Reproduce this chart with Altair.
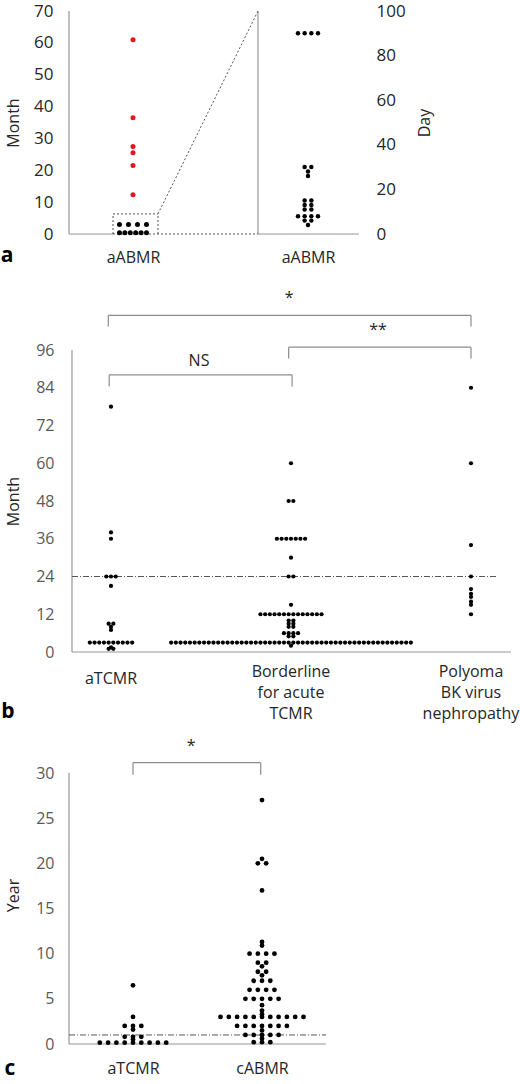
import altair as alt
import pandas as pd

FONT = "Open Sans"
DARK = "#262626"
GREY_TXT = "#595959"
AXLINE = "#969696"
BRACKET = "#8c8c8c"
RED = "#e8141c"

# ---------------- panel a data ----------------
a_cats = ["aABMR", "aABMR"]
a_month_ticks = [0, 10, 20, 30, 40, 50, 60, 70]
a_day_ticks = [0, 20, 40, 60, 80, 100]
a_red_month = [61, 36.5, 27.5, 25.5, 21.5, 12.3]
a_black_month = [3, 3, 3, 3, 0.4, 0.4, 0.4, 0.4, 0.4, 0.4]
a_day = [90, 90, 90, 90, 30, 30, 28, 26, 15, 15, 13, 13, 11, 11, 8, 8, 8, 8, 6, 6, 4]
a_box_top_month = 6.3

# ---------------- panel b data ----------------
b_cats = ["aTCMR", "Borderline\nfor acute\nTCMR", "Polyoma\nBK virus\nnephropathy"]
b_ticks = [0, 12, 24, 36, 48, 60, 72, 84, 96]
b_atcmr = [78, 38, 36, 24, 24, 24, 21, 9, 9, 8, 7] + [3] * 10 + [1.5, 1, 1]
b_borderline = ([60, 48, 48] + [36] * 7 + [30, 24, 24, 15] + [12] * 14
                + [10, 10, 9, 9, 8, 8] + [6] * 4 + [5, 5] + [3] * 52 + [2])
b_polyoma = [84, 60, 34, 24, 20, 18.5, 17.5, 16, 15, 12]
b_cutoff = 24
b_brackets = [
    {"x1": -0.015, "x2": 2.0, "top": 107.0, "end": 103.5, "label": "*", "lx": 0.99, "ly": 112.4},
    {"x1": 0.987, "x2": 2.0, "top": 96.9, "end": 93.3, "label": "**", "lx": 1.483, "ly": 102.2},
    {"x1": -0.01, "x2": 1.006, "top": 88.1, "end": 84.4, "label": "NS", "lx": 0.489, "ly": 92.4},
]

# ---------------- panel c data ----------------
c_cats = ["aTCMR", "cABMR"]
c_ticks = [0, 5, 10, 15, 20, 25, 30]
c_atcmr = [6.5, 3, 2, 2, 2, 1.6, 0.8, 0.8, 0.8, 0.5] + [0.15] * 9
c_cabmr = ([27, 20.5, 20, 20, 17, 11.3, 10.9] + [10] * 4 + [9, 9, 8.6, 8, 8, 7.6, 7, 7, 7]
           + [6] * 4 + [5] * 5 + [4.3, 3.7, 3.3] + [3] * 11 + [2] * 7 + [1.5] + [1] * 5
           + [0.6] + [0.2] * 3)
c_cutoff = 1
c_brackets = [
    {"x1": 0.0, "x2": 0.99, "top": 31.14, "end": 29.8, "label": "*", "lx": 0.45, "ly": 33.0},
]


def swarm(values, center, spacing_px, px_per_unit, max_px=None):
    counts, order = {}, []
    for v in values:
        if v not in counts:
            counts[v] = 0
            order.append(v)
        counts[v] += 1
    rows = []
    for v in order:
        n = counts[v]
        sp = spacing_px
        if max_px is not None and n > 1:
            sp = min(sp, max_px / (n - 1))
        for i in range(n):
            off = (i - (n - 1) / 2) * sp
            rows.append({"x": center + off / px_per_unit, "y": v})
    return pd.DataFrame(rows)


def rules(rows):
    return pd.DataFrame(rows, columns=["x", "x2", "y", "y2"])


def bracket_rows(brs):
    rows = []
    for b in brs:
        rows.append((b["x1"], b["x2"], b["top"], b["top"]))
        rows.append((b["x1"], b["x1"], b["end"], b["top"]))
        rows.append((b["x2"], b["x2"], b["end"], b["top"]))
    return rules(rows)


ONE = pd.DataFrame({"k": [0]})


def bound(top, bottom):
    return alt.Chart(ONE).mark_rule(strokeOpacity=0).encode(
        x=alt.value(-68), x2=alt.value(0), y=alt.value(top), y2=alt.value(bottom))


def letter(t, x, y):
    return alt.Chart(ONE).mark_text(text=t, fontWeight="bold", fontSize=21, font=FONT,
                                    color="black", align="center", baseline="middle").encode(
        x=alt.value(x), y=alt.value(y))


def rule_layer(df, X, Y, color, dash=None, width=1.0):
    kw = {"color": color, "strokeWidth": width}
    if dash:
        kw["strokeDash"] = dash
    return alt.Chart(df).mark_rule(**kw).encode(x=X, x2="x2:Q", y=Y, y2="y2:Q")


TITLE_X = -51

# ================= panel a =================
PPU_A = 175.0
XA = [-0.3657, 1.3029]
WA, HA = 292, 223
xa_axis = alt.Axis(values=[0, 1], labelExpr="%s[datum.value]" % str(a_cats),
                   labelFontSize=16, labelColor=DARK, labelPadding=15, title=None)
XA_enc = alt.X("x:Q", scale=alt.Scale(domain=XA, nice=False, zero=False), axis=xa_axis)
month_scale = alt.Scale(domain=[0, 70], nice=False, zero=False)
day_scale = alt.Scale(domain=[0, 100], nice=False, zero=False)

month_axis = alt.Axis(values=a_month_ticks, labelFontSize=17, labelColor=DARK, labelPadding=16,
                      title="Month", titleFontSize=16, titleColor=DARK, titleX=TITLE_X,
                      titleBaseline="alphabetic", orient="left")
day_axis = alt.Axis(values=a_day_ticks, labelFontSize=17, labelColor=DARK, labelPadding=15,
                    title="Day", titleFontSize=16, titleColor=DARK, titleX=68, titleAngle=270,
                    titleBaseline="alphabetic", orient="right")

x_div = (257 - 132) / PPU_A
box_l = (112 - 132) / PPU_A
box_r = (157 - 132) / PPU_A
right_end = (358 - 132) / PPU_A

a_red = alt.Chart(swarm(a_red_month, 0, 9, PPU_A)).mark_circle(size=25, color=RED, opacity=1).encode(
    x=XA_enc, y=alt.Y("y:Q", scale=month_scale, axis=month_axis))
a_black = alt.Chart(swarm(a_black_month, 0, 9, PPU_A, max_px=27)).mark_circle(
    size=25, color="black", opacity=1).encode(x=XA_enc, y=alt.Y("y:Q", scale=month_scale, axis=None))
a_solid = rule_layer(rules([
    (XA[0], XA[0], 0, 70), (XA[0], box_l, 0, 0), (x_div, x_div, 0, 70), (x_div, right_end, 0, 0)]),
    XA_enc, alt.Y("y:Q", scale=month_scale, axis=None), AXLINE, width=1.2)
a_dot = rule_layer(rules([
    (box_l, x_div, 0, 0), (box_l, box_l, 0, a_box_top_month), (box_l, box_r, a_box_top_month, a_box_top_month),
    (box_r, box_r, 0, a_box_top_month), (box_r, x_div, a_box_top_month, 70)]),
    XA_enc, alt.Y("y:Q", scale=month_scale, axis=None), "#555555", dash=[2, 2], width=1)
a_days = alt.Chart(swarm(a_day, 1, 6.7, PPU_A, max_px=20)).mark_circle(
    size=20, color="black", opacity=1).encode(x=XA_enc, y=alt.Y("y:Q", scale=day_scale, axis=day_axis))

panel_a = alt.layer(a_solid, a_dot, a_red, a_black, a_days, letter("a", -62, 245), bound(-11, 266)).resolve_scale(
    y="independent").properties(width=WA, height=HA)

# ================= panel b =================
PPU_B = 180.0
XB = [-0.2333, 2.2222]
WB, HB = 442, 302
XB_enc = alt.X("x:Q", scale=alt.Scale(domain=XB, nice=False, zero=False), axis=None)
yb_scale = alt.Scale(domain=[0, 96], nice=False, zero=False)
yb_axis = alt.Axis(values=b_ticks, labelFontSize=16, labelColor=GREY_TXT, labelPadding=15,
                   title="Month", titleFontSize=16, titleColor=DARK, titleX=TITLE_X,
                   titleBaseline="alphabetic")
YB = alt.Y("y:Q", scale=yb_scale, axis=yb_axis)
b_axis_x = (71 - 110) / PPU_B

b_pts = pd.concat([swarm(b_atcmr, 0, 4.7, PPU_B), swarm(b_borderline, 1, 4.7, PPU_B),
                   swarm(b_polyoma, 2, 4.7, PPU_B)], ignore_index=True)
b_points = alt.Chart(b_pts).mark_circle(size=18, color="black", opacity=1).encode(x=XB_enc, y=YB)
b_axes = rule_layer(rules([(b_axis_x, b_axis_x, 0, 96), (b_axis_x, XB[1], 0, 0)]), XB_enc, YB, AXLINE, width=1.2)
b_cut = rule_layer(rules([(b_axis_x, (497 - 110) / PPU_B, b_cutoff, b_cutoff)]), XB_enc, YB, "#555555",
                   dash=[6, 2, 1, 2], width=1)
b_br = rule_layer(bracket_rows(b_brackets), XB_enc, YB, BRACKET, width=1.2)
b_brt = alt.Chart(pd.DataFrame([{"x": b["lx"], "y": b["ly"], "t": b["label"]} for b in b_brackets])).mark_text(
    fontSize=16, font=FONT, color=DARK, align="center", baseline="middle").encode(x=XB_enc, y=YB, text="t:N")
b_lab_df = pd.DataFrame({"x": list(range(len(b_cats))), "t": b_cats})
b_lab_multi = alt.Chart(b_lab_df.iloc[1:]).mark_text(
    fontSize=16, font=FONT, color=DARK, align="center", baseline="top", lineBreak="\n", lineHeight=21).encode(
    x=XB_enc, y=alt.value(314), text="t:N")
b_lab_one = alt.Chart(b_lab_df.iloc[:1]).mark_text(
    fontSize=16, font=FONT, color=DARK, align="center", baseline="top").encode(
    x=XB_enc, y=alt.value(321), text="t:N")

panel_b = alt.layer(b_axes, b_cut, b_br, b_brt, b_points, b_lab_multi, b_lab_one,
                    letter("b", -61, 362), bound(-73, 380)).properties(width=WB, height=HB)

# ================= panel c =================
PPU_C = 129.0
XC = [-0.4961, 1.4961]
WC, HC = 257, 271
xc_axis = alt.Axis(values=[0, 1], labelExpr="%s[datum.value]" % str(c_cats),
                   labelFontSize=16, labelColor=DARK, labelPadding=16, title=None)
XC_enc = alt.X("x:Q", scale=alt.Scale(domain=XC, nice=False, zero=False), axis=xc_axis)
yc_scale = alt.Scale(domain=[0, 30], nice=False, zero=False)
yc_axis = alt.Axis(values=c_ticks, labelFontSize=16, labelColor=GREY_TXT, labelPadding=15,
                   title="Year", titleFontSize=16, titleColor=DARK, titleX=TITLE_X, titleY=122,
                   titleBaseline="alphabetic")
YC = alt.Y("y:Q", scale=yc_scale, axis=yc_axis)

c_pts = pd.concat([swarm(c_atcmr, 0, 8.3, PPU_C), swarm(c_cabmr, 1, 8.3, PPU_C)], ignore_index=True)
c_points = alt.Chart(c_pts).mark_circle(size=23, color="black", opacity=1).encode(x=XC_enc, y=YC)
c_axes = rule_layer(rules([(XC[0], XC[0], 0, 30), (XC[0], XC[1], 0, 0)]), XC_enc, YC, AXLINE, width=1.2)
c_cut = rule_layer(rules([(XC[0], XC[1], c_cutoff, c_cutoff)]), XC_enc, YC, "#555555", dash=[6, 2, 1, 2], width=1)
c_br = rule_layer(bracket_rows(c_brackets), XC_enc, YC, BRACKET, width=1.2)
c_brt = alt.Chart(pd.DataFrame([{"x": b["lx"], "y": b["ly"], "t": b["label"]} for b in c_brackets])).mark_text(
    fontSize=16, font=FONT, color=DARK, align="center", baseline="middle").encode(x=XC_enc, y=YC, text="t:N")

panel_c = alt.layer(c_axes, c_cut, c_br, c_brt, c_points, letter("c", -59, 296), bound(-43, 311)).properties(
    width=WC, height=HC)

chart = alt.vconcat(panel_a, panel_b, panel_c, spacing=0).properties(padding=0).configure_view(
    stroke=None).configure_axis(grid=False, domain=False, ticks=False, tickSize=0, labelFont=FONT,
                                titleFont=FONT, titleFontWeight="normal")

chart.save("out.html", embed_options={"renderer": "svg", "actions": False})
